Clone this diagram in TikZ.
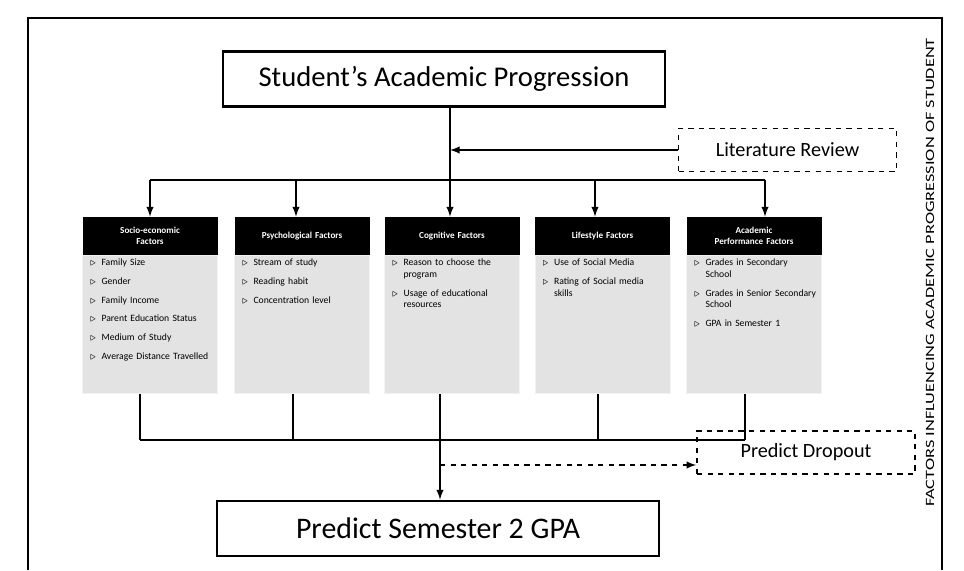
\documentclass[tikz,border=0pt]{standalone}
\usepackage{fontspec}
\setmainfont{Carlito}
\usetikzlibrary{positioning}
\tikzset{
  mainbox/.style={draw, line width=1.6pt, minimum width=8.84cm, minimum height=1.1cm},
  dashbox/.style={draw, dashed, line width=0.9pt, minimum width=4.36cm, minimum height=0.86cm, font=\fontsize{11.5}{13}\selectfont},
  headbox/.style={fill=black, text=white, minimum width=2.7cm, minimum height=0.76cm, text width=2.5cm, align=center, font=\bfseries\fontsize{5.2}{6}\selectfont, inner sep=1pt},
  bodybox/.style={fill=gray!22, draw=gray!10, minimum width=2.7cm, text width=2.5cm, align=left, font=\fontsize{5.5}{6.6}\selectfont, inner sep=2pt},
  link/.style={line width=0.9pt},
  >=latex
}
\newcommand{\factor}[4]{%
  \node[headbox] (#1h) at (#2,6.68) {#3};
  \node[bodybox, below=0pt of #1h] (#1b) {\begin{minipage}[t][2.62cm]{2.5cm}\raggedright
    \begin{list}{$\triangleright$}{\setlength{\itemsep}{0pt}\setlength{\parskip}{0pt}\setlength{\topsep}{2pt}\setlength{\leftmargin}{8pt}\setlength{\labelwidth}{5pt}\setlength{\labelsep}{3pt}}
    #4\end{list}\end{minipage}};}
\begin{document}
\begin{tikzpicture}
\useasboundingbox (0,0) rectangle (19.28,11.4);
\draw[line width=1.2pt] (0.56,0) -- (0.56,11.04) -- (18.84,11.04) -- (18.84,0);
% top and bottom
\node[mainbox, font=\fontsize{16.3}{18}\selectfont] (top) at (8.88,9.82) {Student's Academic Progression};
\node[mainbox, font=\fontsize{17}{19}\selectfont] (gpa) at (8.76,0.83) {Predict Semester 2 GPA};
\node[dashbox] (lit) at (15.75,8.4) {Literature Review};
\node[dashbox] (drop) at (16.12,2.35) {Predict Dropout};
\node[rotate=90, font=\fontsize{7.2}{8}\selectfont, xscale=1.45, transform shape] (side) at (18.6,5.95) {FACTORS INFLUENCING ACADEMIC PROGRESSION OF STUDENT};
% factor columns
\factor{soc}{3.0}{Socio-economic\\Factors}{\item Family Size \item Gender \item Family Income \item Parent Education Status \item Medium of Study \item Average Distance Travelled}
\factor{psy}{6.04}{Psychological Factors}{\item Stream of study \item Reading habit \item Concentration level}
\factor{cog}{9.04}{Cognitive Factors}{\item Reason to choose the program \item Usage of educational resources}
\factor{lif}{12.05}{Lifestyle Factors}{\item Use of Social Media \item Rating of Social media skills}
\factor{aca}{15.08}{Academic\\Performance Factors}{\item Grades in Secondary School \item Grades in Senior Secondary School \item GPA in Semester 1}
% connectors down
\coordinate (split) at (9.0,7.8);
\coordinate (litin) at (9.0,8.4);
\draw[link] (top.south -| split) -- (split);
\draw[link, ->] (lit.west) -- (litin);
\draw[link] (3.0,7.8) -- (15.3,7.8);
\foreach \f/\x in {soc/3.0, psy/5.92, cog/9.0, lif/11.9, aca/15.3}
  \draw[link, ->] (\x,7.8) -- (\f h.north -| \x,0);
% connectors up
\coordinate (join) at (8.8,2.6);
\draw[link] (2.8,2.6) -- (14.9,2.6);
\foreach \f/\x in {soc/2.8, psy/5.86, cog/8.8, lif/11.96, aca/14.9}
  \draw[link] (\f b.south -| \x,0) -- (\x,2.6);
\draw[link, ->] (join) -- (gpa.north -| join);
\draw[link, dashed, ->] (8.8,2.1) -- (drop.west |- 0,2.1);
\end{tikzpicture}
\end{document}
